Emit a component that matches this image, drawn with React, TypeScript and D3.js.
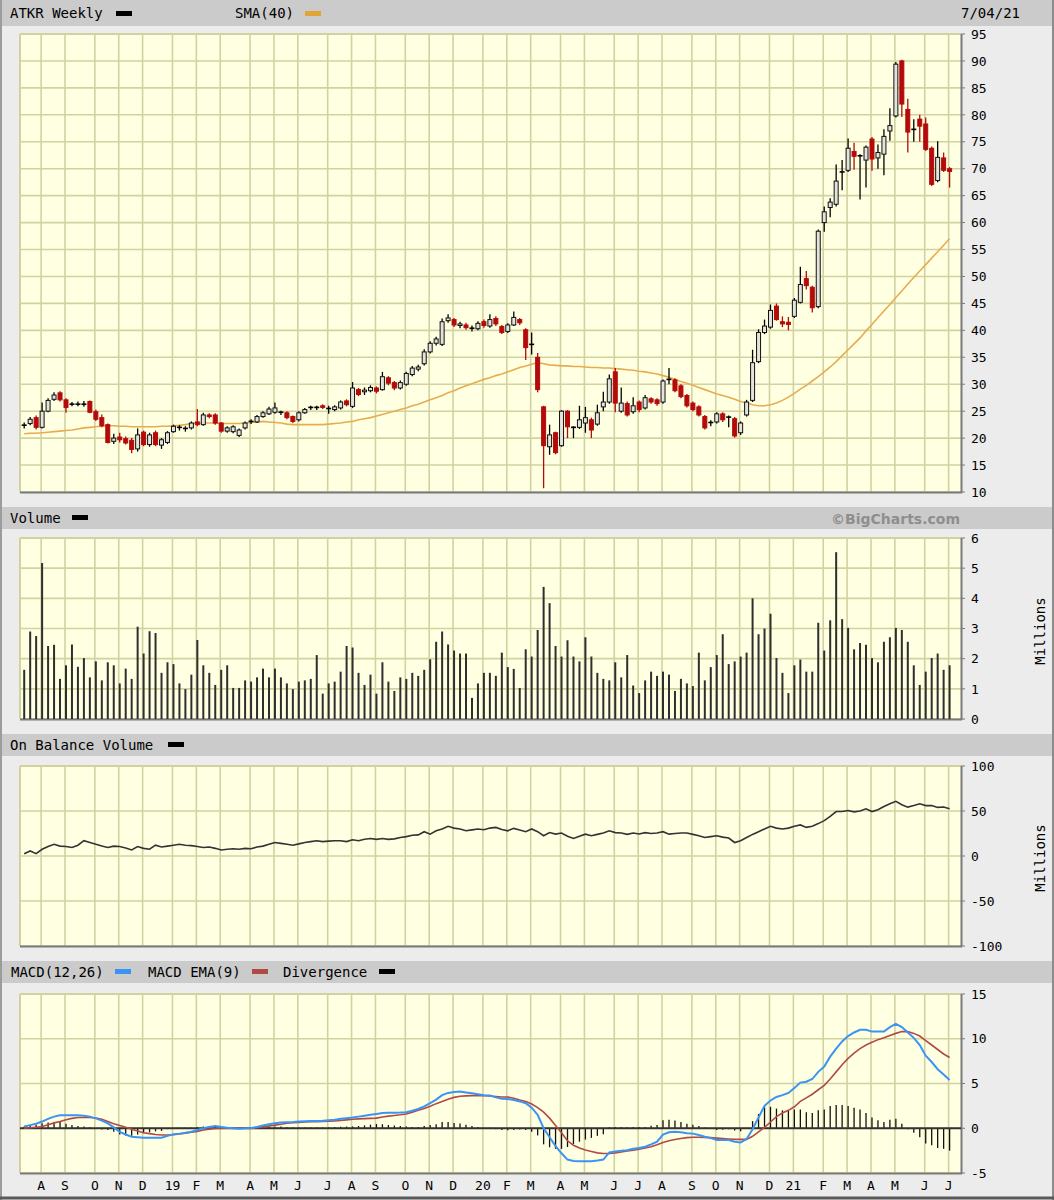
import React from 'react';
import * as d3 from 'd3';

// ---------- DATA (weekly bars, ATKR, week of Jul 9 2018 .. week of Jun 28 2021) ----------
const firstWeek = new Date(2018, 6, 9);

const open = [
  22.2, 22.7, 23.8, 22.0, 25.0, 27.2, 28.4, 27.1, 26.1, 26.2,
  26.1, 26.8, 24.9, 23.8, 22.5, 19.4, 20.2, 19.9, 19.6, 18.0,
  21.1, 18.8, 21.0, 18.7, 19.2, 21.2, 21.8, 21.6, 21.9, 23.0,
  22.5, 24.3, 24.3, 22.8, 21.3, 21.2, 20.5, 21.9, 22.9, 23.0,
  24.0, 24.5, 24.8, 24.6, 24.7, 24.0, 23.4, 24.7, 25.5, 25.5,
  26.0, 25.3, 25.3, 25.6, 26.9, 25.9, 29.0, 28.6, 28.8, 29.3,
  29.0, 31.2, 30.3, 29.3, 30.0, 31.8, 32.8, 33.8, 36.0, 37.6,
  37.4, 41.8, 42.0, 40.9, 41.0, 40.2, 40.3, 41.6, 40.8, 42.2,
  40.7, 39.8, 41.0, 42.0, 40.1, 37.2, 35.0, 25.8, 18.4, 21.0,
  18.6, 25.0, 21.8, 22.0, 22.8, 23.4, 22.6, 25.8, 26.7, 32.3,
  25.0, 26.4, 24.9, 26.7, 25.6, 27.3, 27.1, 26.7, 30.7, 30.8,
  29.7, 27.9, 26.5, 25.8, 24.0, 22.7, 23.0, 24.5, 23.7, 23.6,
  21.0, 24.3, 27.0, 34.2, 39.6, 40.6, 44.5, 41.6, 41.5, 42.6,
  45.2, 49.6, 48.0, 44.4, 60.0, 62.8, 63.4, 69.2, 69.7, 73.2,
  72.2, 71.6, 75.5, 72.0, 72.7, 77.0, 79.8, 90.0, 81.0, 77.1,
  79.2, 78.3, 73.8, 67.8, 72.0, 70.0,
];
const high = [
  22.9, 23.9, 24.2, 26.6, 27.4, 28.5, 28.7, 27.4, 26.7, 26.8,
  26.9, 27.0, 25.3, 24.4, 22.7, 20.8, 21.0, 20.3, 20.0, 21.8,
  21.4, 21.0, 21.4, 20.0, 21.3, 22.5, 22.4, 22.2, 23.1, 25.4,
  24.7, 24.6, 24.6, 23.0, 22.2, 22.4, 21.8, 23.1, 23.5, 24.3,
  25.0, 25.8, 26.6, 25.1, 25.0, 24.2, 25.0, 25.6, 26.0, 26.0,
  26.3, 26.0, 26.1, 27.0, 27.2, 30.4, 29.3, 29.4, 29.8, 29.6,
  32.3, 31.5, 30.6, 30.7, 32.3, 33.4, 33.6, 36.5, 38.0, 38.8,
  42.2, 43.0, 42.3, 41.6, 41.4, 40.9, 41.7, 42.0, 43.0, 42.6,
  41.0, 41.3, 43.5, 42.3, 40.4, 39.6, 35.8, 26.0, 22.5, 21.2,
  25.2, 25.2, 22.2, 26.0, 25.8, 23.8, 26.2, 28.6, 31.8, 33.0,
  29.4, 26.8, 27.6, 27.0, 28.0, 27.6, 27.4, 30.9, 33.0, 31.1,
  30.0, 28.2, 26.8, 26.1, 24.3, 23.3, 24.8, 24.8, 24.2, 23.9,
  23.1, 27.1, 36.4, 40.2, 42.0, 44.8, 45.0, 42.6, 42.5, 46.0,
  51.8, 51.0, 48.3, 58.7, 63.0, 64.5, 70.8, 71.6, 75.6, 74.8,
  72.7, 74.3, 75.9, 74.5, 77.3, 81.2, 89.8, 90.2, 83.0, 79.2,
  80.0, 79.5, 74.1, 75.1, 73.0, 70.3,
];
const low = [
  21.8, 22.4, 21.6, 21.8, 24.8, 26.9, 26.8, 24.7, 25.9, 25.9,
  25.8, 24.6, 23.2, 22.0, 19.0, 18.9, 19.2, 18.8, 17.2, 17.5,
  18.5, 18.4, 18.5, 18.0, 18.9, 21.0, 21.4, 21.2, 21.6, 22.2,
  22.3, 23.7, 22.5, 21.0, 21.0, 20.9, 20.2, 21.6, 22.6, 22.8,
  23.8, 24.3, 24.5, 24.3, 23.5, 22.8, 23.1, 24.5, 25.2, 25.2,
  25.4, 24.5, 25.0, 25.3, 25.9, 25.6, 27.8, 28.0, 28.5, 28.3,
  28.8, 29.8, 28.9, 29.0, 29.7, 31.5, 32.4, 33.5, 35.7, 37.2,
  37.1, 41.4, 40.6, 40.4, 40.1, 39.8, 40.0, 40.5, 40.5, 40.8,
  39.3, 39.5, 40.8, 41.0, 34.5, 35.5, 28.5, 10.7, 16.9, 17.0,
  18.4, 20.0, 20.0, 21.7, 21.0, 20.0, 22.3, 25.0, 26.4, 24.8,
  24.7, 24.0, 24.5, 24.8, 25.3, 26.4, 26.0, 26.4, 30.0, 28.5,
  27.4, 25.7, 25.0, 24.0, 21.6, 22.2, 22.7, 23.0, 22.0, 20.1,
  20.6, 24.0, 26.7, 33.9, 39.3, 40.3, 41.8, 40.6, 40.0, 42.3,
  45.0, 47.6, 43.3, 44.1, 58.3, 61.0, 63.0, 66.0, 69.4, 69.8,
  64.3, 66.5, 69.6, 70.0, 68.8, 75.2, 79.5, 79.6, 73.0, 75.0,
  75.0, 73.3, 66.8, 67.5, 69.4, 66.5,
];
const close = [
  22.4, 23.5, 22.0, 25.0, 27.0, 28.0, 27.1, 25.7, 26.3, 26.3,
  26.3, 24.8, 23.5, 22.3, 19.2, 20.0, 19.7, 19.1, 17.9, 20.6,
  18.8, 20.6, 18.8, 19.7, 21.0, 22.2, 22.0, 21.8, 22.8, 22.5,
  24.3, 24.0, 22.8, 21.3, 21.9, 22.1, 21.5, 22.8, 23.1, 24.0,
  24.7, 25.4, 25.6, 24.8, 23.8, 23.1, 24.7, 25.3, 25.7, 25.7,
  25.7, 25.5, 25.8, 26.7, 26.2, 29.3, 28.1, 28.9, 29.4, 28.7,
  31.4, 30.2, 29.3, 30.3, 32.0, 33.0, 33.2, 36.0, 37.6, 38.4,
  41.6, 42.3, 41.0, 41.2, 40.5, 40.4, 41.3, 40.9, 42.0, 41.2,
  39.6, 41.0, 42.4, 41.4, 36.8, 37.4, 29.0, 18.6, 20.6, 17.3,
  25.0, 22.1, 22.0, 23.4, 23.8, 21.5, 24.7, 26.7, 31.0, 26.5,
  26.5, 24.3, 26.0, 25.3, 27.5, 26.7, 26.4, 30.6, 30.9, 28.8,
  27.7, 26.0, 25.3, 24.3, 21.9, 22.9, 24.5, 23.4, 23.9, 20.4,
  22.8, 26.7, 34.0, 39.6, 40.8, 43.7, 42.0, 41.2, 41.1, 45.6,
  48.5, 48.3, 44.2, 58.4, 62.0, 63.8, 67.7, 69.4, 73.8, 72.3,
  72.4, 74.0, 71.8, 73.0, 76.0, 78.0, 89.4, 82.0, 76.8, 77.3,
  77.9, 73.6, 67.1, 72.1, 69.7, 69.5,
];
const sma40 = [
  20.8, 20.9, 20.9, 21.0, 21.1, 21.2, 21.3, 21.4, 21.5, 21.7,
  21.9, 22.0, 22.1, 22.2, 22.3, 22.3, 22.2, 22.2, 22.1, 22.1,
  22.1, 22.1, 22.1, 22.2, 22.2, 22.3, 22.4, 22.5, 22.7, 22.8,
  22.8, 22.8, 22.8, 22.7, 22.7, 22.7, 22.7, 22.8, 22.9, 23.0,
  23.1, 23.0, 22.9, 22.8, 22.6, 22.5, 22.5, 22.5, 22.5, 22.5,
  22.5, 22.6, 22.7, 22.8, 23.0, 23.1, 23.4, 23.6, 23.8, 24.1,
  24.4, 24.7, 25.0, 25.3, 25.6, 26.0, 26.3, 26.7, 27.1, 27.5,
  27.9, 28.4, 28.8, 29.3, 29.7, 30.1, 30.5, 30.9, 31.2, 31.6,
  31.9, 32.3, 32.7, 33.1, 33.4, 33.7, 34.0, 33.8, 33.6, 33.5,
  33.4, 33.4, 33.3, 33.3, 33.2, 33.1, 33.1, 33.0, 33.0, 32.9,
  32.8, 32.7, 32.6, 32.4, 32.3, 32.1, 31.9, 31.6, 31.3, 30.9,
  30.5, 30.2, 29.8, 29.4, 29.0, 28.6, 28.2, 27.9, 27.6, 27.2,
  26.8, 26.5, 26.2, 26.0, 26.0, 26.2, 26.5, 27.0, 27.6, 28.3,
  29.1, 29.8, 30.6, 31.4, 32.3, 33.2, 34.2, 35.3, 36.4, 37.5,
  38.6, 39.9, 41.1, 42.4, 43.6, 44.8, 46.1, 47.3, 48.6, 49.8,
  51.0, 52.2, 53.4, 54.6, 55.8, 57.0,
];
// millions of shares
const volume = [
  1.63, 2.9, 2.75, 5.17, 2.42, 2.46, 1.33, 1.78, 2.47, 1.73,
  2.02, 1.38, 1.91, 1.28, 1.88, 1.78, 1.18, 1.67, 1.33, 3.06,
  2.17, 2.91, 2.85, 1.53, 1.88, 1.82, 1.18, 0.99, 1.47, 2.62,
  1.78, 1.53, 1.13, 1.63, 1.78, 1.03, 1.03, 1.28, 1.24, 1.38,
  1.67, 1.38, 1.67, 1.38, 1.18, 0.99, 1.24, 1.28, 1.33, 2.12,
  0.84, 1.18, 1.24, 1.57, 2.42, 2.37, 1.53, 1.13, 1.47, 0.84,
  1.88, 1.24, 0.93, 1.38, 1.33, 1.53, 1.43, 1.63, 1.98, 2.56,
  2.9, 2.47, 2.27, 2.17, 2.17, 0.70, 1.18, 1.53, 1.53, 1.43,
  2.2, 1.72, 1.66, 1.03, 2.31, 2.07, 2.95, 4.38, 3.84, 2.42,
  2.07, 2.61, 2.07, 1.91, 2.71, 2.07, 1.53, 1.33, 1.28, 1.88,
  1.38, 2.12, 1.11, 0.86, 1.28, 1.57, 1.43, 1.57, 1.47, 0.93,
  1.33, 1.18, 1.09, 2.2, 1.28, 1.72, 2.12, 2.81, 1.82, 1.91,
  2.07, 2.2, 4.0, 2.81, 3.0, 3.49, 2.02, 1.53, 0.86, 1.78,
  1.97, 1.57, 1.57, 3.19, 2.27, 3.27, 5.53, 3.31, 3.02, 2.31,
  2.52, 2.46, 2.02, 1.88, 2.56, 2.71, 3.02, 2.95, 2.56, 1.78,
  1.13, 1.57, 2.02, 2.17, 1.63, 1.78,
];
// millions
const obv = [
  2.6, 5.6, 2.6, 7.5, 10.5, 13, 11, 10.5, 9.4, 12,
  17, 15, 13, 11, 9.4, 11, 10.5, 9, 6.7, 10.5,
  8.5, 7.5, 12, 10, 11, 12, 13, 12, 11.5, 10.5,
  9.4, 10, 8.5, 6.7, 7.5, 8, 7.5, 8.5, 8, 10,
  11, 13, 15, 14, 13, 12, 13.5, 15, 16, 17,
  16, 16.5, 17, 17, 16, 18, 17, 18.7, 19.5, 18.5,
  19.5, 18.5, 19, 20.6, 21.5, 23, 23.5, 27, 24.3, 28,
  30, 33, 31, 30, 28, 29, 30, 29.2, 31, 31.8,
  29.5, 28, 30.7, 29, 27, 30, 27, 22.5, 26, 24.3,
  25.5, 22, 19.5, 22, 24.3, 22.5, 24, 25.5, 28, 26,
  25.5, 24, 25.5, 24.5, 26, 25, 25.5, 27, 24.3, 25,
  25.5, 25.5, 24, 22.5, 20.6, 21.5, 22.5, 21, 20, 15,
  17, 20.6, 24, 27, 30, 33, 31, 30, 31, 33,
  34.5, 31.8, 33, 36, 39.3, 44, 49.4, 49.4, 50.5, 49,
  50, 52.4, 49.4, 51.5, 55, 58, 60.7, 57, 54.3, 56,
  58, 56, 56, 54, 54.5, 52.4,
];
const macd = [
  0.2, 0.35, 0.5, 0.75, 1.05, 1.3, 1.45, 1.45, 1.45, 1.45,
  1.4, 1.3, 1.1, 0.85, 0.55, 0.1, -0.4, -0.7, -0.94, -1.0,
  -1.05, -1.05, -1.05, -1.05, -0.85, -0.68, -0.6, -0.5, -0.38, -0.2,
  0.0, 0.15, 0.26, 0.15, 0.05, 0.0, -0.05, 0.0, 0.0, 0.15,
  0.3, 0.45, 0.55, 0.64, 0.68, 0.7, 0.75, 0.78, 0.8, 0.82,
  0.83, 0.9, 0.95, 1.05, 1.13, 1.2, 1.3, 1.4, 1.5, 1.6,
  1.7, 1.72, 1.72, 1.75, 1.8, 1.95, 2.15, 2.45, 2.8, 3.2,
  3.7, 3.95, 4.05, 4.1, 4.0, 3.9, 3.8, 3.7, 3.65, 3.45,
  3.3, 3.27, 3.15, 3.0, 2.8, 2.3, 1.5, 0.0, -1.0, -2.0,
  -2.8, -3.5, -3.65, -3.7, -3.7, -3.68, -3.6, -3.5, -2.7, -2.6,
  -2.5, -2.45, -2.3, -2.2, -2.07, -1.8, -1.5, -0.7, -0.45, -0.38,
  -0.45, -0.55, -0.6, -0.75, -0.94, -1.1, -1.3, -1.32, -1.32, -1.5,
  -1.58, -1.2, -0.1, 1.2, 2.5, 3.1, 3.5, 3.7, 3.95, 4.5,
  5.1, 5.2, 5.5, 6.3, 6.9, 8.0, 8.9, 9.7, 10.3, 10.7,
  11.0, 11.0, 10.8, 10.8, 10.8, 11.3, 11.65, 11.3, 10.7, 10.1,
  9.3, 8.1, 7.4, 6.6, 6.0, 5.4,
];
const macdEma9 = [
  0.0, 0.05, 0.12, 0.2, 0.4, 0.6, 0.75, 0.95, 1.1, 1.2,
  1.2, 1.2, 1.15, 1.0, 0.75, 0.5, 0.3, 0.11, -0.1, -0.3,
  -0.5, -0.6, -0.7, -0.75, -0.75, -0.72, -0.65, -0.56, -0.45, -0.35,
  -0.19, -0.1, -0.02, 0.0, 0.0, 0.0, 0.0, 0.0, 0.02, 0.05,
  0.15, 0.26, 0.35, 0.45, 0.56, 0.62, 0.66, 0.7, 0.72, 0.74,
  0.75, 0.78, 0.82, 0.88, 0.94, 1.0, 1.05, 1.08, 1.1, 1.13,
  1.25, 1.35, 1.42, 1.5, 1.6, 1.8, 2.0, 2.2, 2.45, 2.75,
  3.0, 3.25, 3.45, 3.57, 3.62, 3.65, 3.65, 3.65, 3.6, 3.55,
  3.5, 3.5, 3.35, 3.15, 3.0, 2.7, 2.3, 1.8, 1.13, 0.3,
  -0.5, -1.4, -1.9, -2.2, -2.44, -2.6, -2.75, -2.82, -2.82, -2.75,
  -2.65, -2.55, -2.45, -2.35, -2.2, -2.07, -1.85, -1.6, -1.4, -1.25,
  -1.15, -1.05, -1.0, -1.0, -1.02, -1.05, -1.1, -1.15, -1.2, -1.24,
  -1.24, -1.24, -0.9, -0.4, 0.1, 0.7, 1.3, 1.7, 2.0, 2.4,
  3.0, 3.4, 3.8, 4.3, 4.8, 5.5, 6.3, 7.1, 7.8, 8.4,
  8.9, 9.3, 9.6, 9.9, 10.1, 10.35, 10.6, 10.8, 10.8, 10.6,
  10.3, 9.8, 9.3, 8.8, 8.3, 7.9,
];

const priceTicks = [10, 15, 20, 25, 30, 35, 40, 45, 50, 55, 60, 65, 70, 75, 80, 85, 90, 95];
const volumeTicks = [0, 1, 2, 3, 4, 5, 6];
const obvTicks = [-100, -50, 0, 50, 100];
const macdTicks = [-5, 0, 5, 10, 15];
const monthLetters = ['J', 'F', 'M', 'A', 'M', 'J', 'J', 'A', 'S', 'O', 'N', 'D'];

// ---------- STYLE ----------
const W = 1054;
const H = 1200;
const PL = 20;
const PR = 961;
const MONO = "'DejaVu Sans Mono', monospace";
const BG = '#ececec';
const HEAD = '#cbcbcb';
const PLOT = '#ffffe2';
const GRID = '#d2d2a0';
const RED = '#b40a0a';
const SMA = '#e8ac50';
const BLUE = '#3b94f4';
const BROWN = '#b24a44';

type PanelProps = {
  top: number;
  bottom: number;
  y: d3.ScaleLinear<number, number>;
  ticks: number[];
  gridX: number[];
};

function Panel({ top, bottom, y, ticks, gridX }: PanelProps) {
  return (
    <g>
      <rect x={PL} y={top} width={PR - PL} height={bottom - top} fill={PLOT} />
      {gridX.map((gx, k) => (
        <line key={'v' + k} x1={gx} x2={gx} y1={top} y2={bottom} stroke={GRID} strokeWidth={1.6} />
      ))}
      {ticks.map((t) => (
        <line key={'h' + t} x1={PL} x2={PR} y1={y(t)} y2={y(t)} stroke={GRID} strokeWidth={1.6} />
      ))}
      <line x1={PL} x2={PR} y1={top} y2={top} stroke={GRID} strokeWidth={2} />
      <line x1={PL} x2={PL} y1={top} y2={bottom} stroke={GRID} strokeWidth={2} />
      <line x1={PL} x2={PR + 1} y1={bottom + 0.5} y2={bottom + 0.5} stroke="#7a7a7a" strokeWidth={2} />
      <line x1={PR + 0.5} x2={PR + 0.5} y1={top} y2={bottom + 1} stroke="#7a7a7a" strokeWidth={2} />
      {ticks.map((t) => (
        <g key={'t' + t}>
          <line x1={PR} x2={PR + 4} y1={y(t)} y2={y(t)} stroke="#7a7a7a" strokeWidth={1} />
          <text x={971} y={y(t)} dy="0.36em" fontFamily={MONO} fontSize={13} fill="#000">
            {String(t)}
          </text>
        </g>
      ))}
    </g>
  );
}

function Header({ y, h, children }: { y: number; h: number; children?: React.ReactNode }) {
  return (
    <g>
      <rect x={2} y={y} width={W - 4} height={h} fill={HEAD} />
      {children}
    </g>
  );
}

export default function App() {
  const N = close.length;
  const x = d3.scaleLinear().domain([0, N - 1]).range([24.2, 949.6]);
  const yP = d3.scaleLinear().domain([10, 95]).range([492, 34]);
  const yV = d3.scaleLinear().domain([0, 6]).range([719, 538]);
  const yO = d3.scaleLinear().domain([-100, 100]).range([946, 766]);
  const yM = d3.scaleLinear().domain([-5, 15]).range([1173, 994]);

  const weeks = d3.range(N).map((i) => d3.timeDay.offset(firstWeek, 7 * i));
  const months: { i: number; label: string }[] = [];
  for (let i = 1; i < N; i++) {
    const a = d3.timeDay.offset(weeks[i - 1], 6);
    const b = d3.timeDay.offset(weeks[i], 6);
    if (a.getMonth() !== b.getMonth()) {
      const m = b.getMonth();
      months.push({ i, label: m === 0 ? String(b.getFullYear() % 100).padStart(2, '0') : monthLetters[m] });
    }
  }
  const gridX = months.map((m) => x(m.i) - 1);

  const idx = d3.range(N);
  const smaPath = d3.line<number>().x((i) => x(i)).y((i) => yP(sma40[i]))(idx) || '';
  const obvPath = d3.line<number>().x((i) => x(i)).y((i) => yO(obv[i]))(idx) || '';
  const macdPath = d3.line<number>().x((i) => x(i)).y((i) => yM(macd[i]))(idx) || '';
  const emaPath = d3.line<number>().x((i) => x(i)).y((i) => yM(macdEma9[i]))(idx) || '';

  const swatch = (sx: number, sy: number, color: string) => (
    <rect x={sx} y={sy} width={16} height={5} fill={color} />
  );

  return (
    <svg width={W} height={H} style={{ position: 'absolute', left: 0, top: 0, display: 'block' }}>
      <rect x={0} y={0} width={W} height={H} fill={BG} />
      <line x1={1} x2={1} y1={0} y2={H} stroke="#9c9c9c" strokeWidth={2} />
      <line x1={W - 1} x2={W - 1} y1={0} y2={H} stroke="#8c8c8c" strokeWidth={2} />
      <line x1={0} x2={W} y1={H - 2} y2={H - 2} stroke="#5a5a5a" strokeWidth={3} />

      {/* headers */}
      <Header y={0} h={26}>
        <text x={10} y={18} fontFamily={MONO} fontSize={14}>ATKR Weekly</text>
        {swatch(116, 11, '#000')}
        <text x={235} y={18} fontFamily={MONO} fontSize={14}>SMA(40)</text>
        {swatch(305, 11, '#e0a438')}
        <text x={1020} y={18} fontFamily={MONO} fontSize={14} textAnchor="end">7/04/21</text>
      </Header>
      <Header y={507} h={22}>
        <text x={10} y={523} fontFamily={MONO} fontSize={14}>Volume</text>
        {swatch(72, 515, '#000')}
        <text x={960} y={524} fontFamily="'DejaVu Sans', sans-serif" fontWeight="bold" fontSize={14} fill="#8e8e8e" textAnchor="end">©BigCharts.com</text>
      </Header>
      <Header y={734} h={22}>
        <text x={10} y={750} fontFamily={MONO} fontSize={14}>On Balance Volume</text>
        {swatch(168, 742, '#000')}
      </Header>
      <Header y={961} h={22}>
        <text x={11} y={977} fontFamily={MONO} fontSize={14}>MACD(12,26)</text>
        {swatch(115, 969, BLUE)}
        <text x={148} y={977} fontFamily={MONO} fontSize={14}>MACD EMA(9)</text>
        {swatch(252, 969, BROWN)}
        <text x={283} y={977} fontFamily={MONO} fontSize={14}>Divergence</text>
        {swatch(379, 969, '#000')}
      </Header>

      {/* price panel */}
      <Panel top={34} bottom={492} y={yP} ticks={priceTicks} gridX={gridX} />
      <path d={smaPath} fill="none" stroke={SMA} strokeWidth={1.6} />
      {idx.map((i) => {
        const o = open[i];
        const c = close[i];
        const up = c >= o;
        const cx = x(i);
        const col = up ? '#000' : RED;
        const yTop = yP(Math.max(o, c));
        const yBot = yP(Math.min(o, c));
        const bh = yBot - yTop;
        return (
          <g key={'c' + i}>
            <line x1={cx} x2={cx} y1={yP(high[i])} y2={yP(low[i])} stroke={col} strokeWidth={1.3} />
            {bh < 1.6 ? (
              <line x1={cx - 2.5} x2={cx + 2.5} y1={yTop} y2={yTop} stroke={col} strokeWidth={1.6} />
            ) : (
              <rect
                x={cx - 2}
                y={yTop}
                width={4}
                height={bh}
                fill={up ? '#e4e4dc' : RED}
                stroke={up ? '#111' : RED}
                strokeWidth={1}
              />
            )}
          </g>
        );
      })}

      {/* volume panel */}
      <Panel top={538} bottom={719} y={yV} ticks={volumeTicks} gridX={gridX} />
      {idx.map((i) => (
        <line key={'v' + i} x1={x(i)} x2={x(i)} y1={yV(0)} y2={yV(volume[i])} stroke="#2e2e2e" strokeWidth={2} />
      ))}
      <text transform="translate(1045,631) rotate(-90)" textAnchor="middle" fontFamily={MONO} fontSize={14}>Millions</text>

      {/* OBV panel */}
      <Panel top={766} bottom={946} y={yO} ticks={obvTicks} gridX={gridX} />
      <path d={obvPath} fill="none" stroke="#333" strokeWidth={1.6} />
      <text transform="translate(1045,858) rotate(-90)" textAnchor="middle" fontFamily={MONO} fontSize={14}>Millions</text>

      {/* MACD panel */}
      <Panel top={994} bottom={1173} y={yM} ticks={macdTicks} gridX={gridX} />
      {idx.map((i) => (
        <line key={'d' + i} x1={x(i)} x2={x(i)} y1={yM(0)} y2={yM(macd[i] - macdEma9[i])} stroke="#111" strokeWidth={1.3} />
      ))}
      <line x1={PL} x2={PR} y1={yM(0)} y2={yM(0)} stroke="#333" strokeWidth={2} />
      <path d={emaPath} fill="none" stroke={BROWN} strokeWidth={1.6} />
      <path d={macdPath} fill="none" stroke={BLUE} strokeWidth={2} />

      {/* x axis labels */}
      {months.map((m) => (
        <text key={'m' + m.i} x={x(m.i) - 1} y={1190} textAnchor="middle" fontFamily={MONO} fontSize={13}>
          {m.label}
        </text>
      ))}
    </svg>
  );
}
